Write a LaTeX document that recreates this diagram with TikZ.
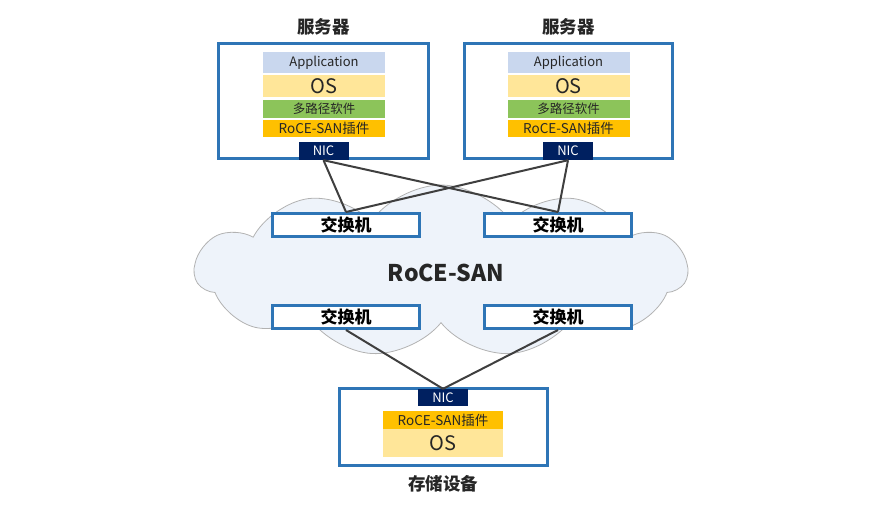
\documentclass[tikz,border=0pt]{standalone}
\usepackage{fontspec}
\setmainfont{Noto Sans CJK SC}
\usetikzlibrary{shapes.symbols, positioning}

\definecolor{boxblue}{HTML}{2E75B6}
\definecolor{appblue}{HTML}{C9D7EE}
\definecolor{osyellow}{HTML}{FFE699}
\definecolor{mpgreen}{HTML}{8CC45A}
\definecolor{plugorange}{HTML}{FFC000}
\definecolor{nicnavy}{HTML}{002060}
\definecolor{cloudfill}{HTML}{EEF3FA}
\definecolor{linkgray}{HTML}{3F3F3F}

\begin{document}
\begin{tikzpicture}[x=1pt, y=-1pt, node distance={2pt},
    host/.style = {draw=boxblue, line width=3pt, fill=white, inner sep=0pt},
    layer/.style = {inner sep=0pt, minimum width=122pt, text=black!85, font=\fontsize{12.5}{12.5}\selectfont},
    nic/.style = {fill=nicnavy, text=white, inner sep=0pt, minimum width=50pt, minimum height=18pt, font=\fontsize{13}{13}\selectfont},
    switch/.style = {draw=boxblue, line width=3pt, fill=white, inner sep=0pt, minimum width=147pt, minimum height=23pt, font=\bfseries\fontsize{17}{17}\selectfont},
    title/.style = {font=\bfseries\fontsize{17.5}{17.5}\selectfont, text=black!85},
    link/.style = {draw=linkgray, line width=2pt}]
    \useasboundingbox (0,0) rectangle (880,504);

    % Cloud
    \node[cloud, cloud puffs=11, cloud puff arc=110, aspect=2.8, draw=black!30, fill=cloudfill, line width=0.8pt,
          minimum width=492pt, minimum height=172pt, inner sep=0pt] (net) at (441,271) {};
    \node[font=\bfseries\fontsize{23}{23}\selectfont, text=black!85] (netname) at (446,273) {RoCE-SAN};

    % Server 1
    \node[title] (t1) at (323.5,27) {服务器};
    \node[host, minimum width=210pt, minimum height=115pt] (s1) at (323.5,101) {};
    \node[layer, fill=appblue, minimum height=21pt, font=\fontsize{13}{13}\selectfont] (app1) at (324,62.5) {Application};
    \node[layer, fill=osyellow, minimum height=22pt, font=\fontsize{20}{20}\selectfont] (os1) [below=of app1] {OS};
    \node[layer, fill=mpgreen, minimum height=18pt] (mp1) [below=of os1] {多路径软件};
    \node[layer, fill=plugorange, minimum height=17pt, font=\fontsize{13.5}{13.5}\selectfont] (pl1) [below=of mp1] {RoCE-SAN插件};
    \node[nic] (nic1) at (323.5,151) {NIC};

    % Server 2
    \node[title] (t2) at (568.5,27) {服务器};
    \node[host, minimum width=208pt, minimum height=115pt] (s2) at (568.5,101) {};
    \node[layer, fill=appblue, minimum height=21pt, font=\fontsize{13}{13}\selectfont] (app2) at (568.5,62.5) {Application};
    \node[layer, fill=osyellow, minimum height=22pt, font=\fontsize{20}{20}\selectfont] (os2) [below=of app2] {OS};
    \node[layer, fill=mpgreen, minimum height=18pt] (mp2) [below=of os2] {多路径软件};
    \node[layer, fill=plugorange, minimum height=17pt, font=\fontsize{13.5}{13.5}\selectfont] (pl2) [below=of mp2] {RoCE-SAN插件};
    \node[nic] (nic2) at (568,151) {NIC};

    % Storage
    \node[host, minimum width=208pt, minimum height=77pt] (st) at (443.5,427) {};
    \node[layer, fill=osyellow, minimum width=120pt, minimum height=46pt] (os3) at (443,434) {};
    \node[layer, fill=plugorange, minimum width=120pt, minimum height=18pt, font=\fontsize{13.5}{13.5}\selectfont] (pl3) at (443,420) {RoCE-SAN插件};
    \node[font=\fontsize{20}{20}\selectfont, text=black!85] (ost) at (443,443) {OS};
    \node[nic, minimum height=17pt] (nic3) at (443,397.5) {NIC};
    \node[title] (t3) at (443,484) {存储设备};

    % Switches
    \node[switch] (sw1) at (346,225) {交换机};
    \node[switch] (sw2) at (558,225) {交换机};
    \node[switch] (sw3) at (346,317) {交换机};
    \node[switch] (sw4) at (558,317) {交换机};

    % Lines
    \draw[link] (nic1.south) -- (sw1.north);
    \draw[link] (nic1.south) -- (sw2.north);
    \draw[link] (nic2.south) -- (sw1.north);
    \draw[link] (nic2.south) -- (sw2.north);
    \draw[link] (sw3.south) -- (nic3.north);
    \draw[link] (sw4.south) -- (nic3.north);
\end{tikzpicture}
\end{document}
